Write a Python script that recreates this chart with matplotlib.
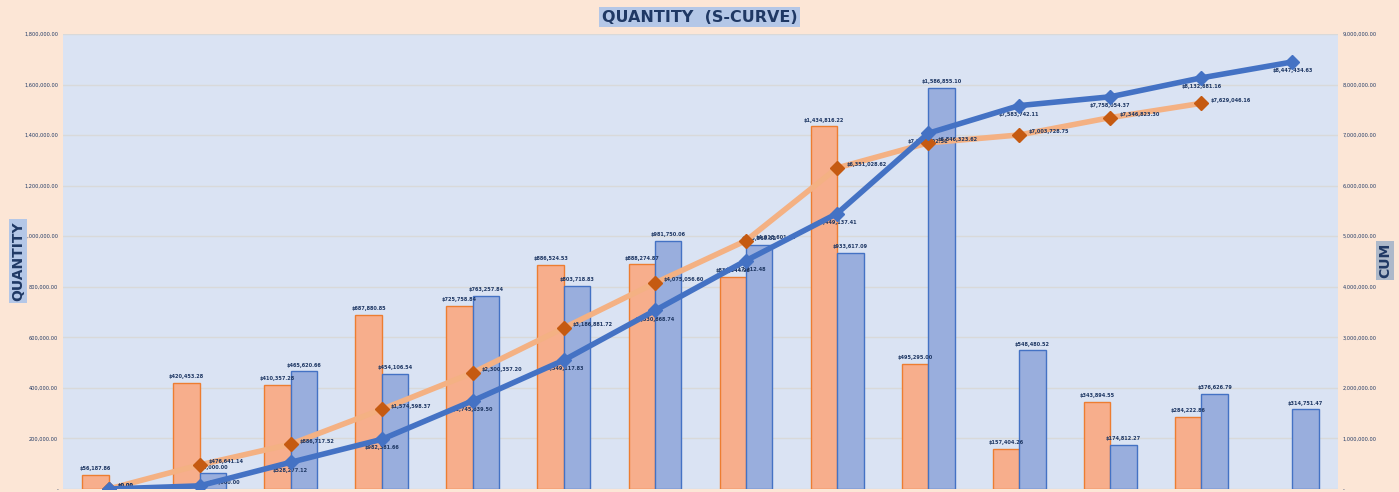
import matplotlib.pyplot as plt
import numpy as np

planned = [56187.86, 420453.28, 410357.28, 687880.85, 725758.84, 886524.53, 888274.87,
           838544.98, 1434816.22, 495295.00, 157404.26, 343894.55, 284222.86, None]
actual = [None, 62000.00, 465620.66, 454106.54, 763257.84, 803718.83, 981750.06,
          965560.32, 933617.09, 1586855.10, 548480.52, 174812.27, 376626.79, 314751.47]
cum_planned = [0, 476641.14, 886717.52, 1574598.37, 2300357.20, 3186881.72, 4075056.60,
               4913601.58, 6351028.62, 6846323.62, 7003728.75, 7346823.30, 7629046.16, None]
cum_actual = [0, 62000.00, 528277.12, 982381.66, 1745639.50, 2549117.83, 3530868.74,
              4517912.48, 5449137.41, 7035992.51, 7583742.11, 7758054.37, 8132681.16, 8447434.63]

fig = plt.figure(figsize=(13.99, 4.92), dpi=100, facecolor="#FCE6D6")
ax = fig.add_axes([63 / 1399, 3 / 492, 1275 / 1399, 455 / 492])
ax.set_facecolor("#DAE3F3")
ax2 = ax.twinx()

x = np.arange(len(planned))
w = 0.29
navy = "#1F3864"
for i in x:
    if planned[i] is not None:
        ax.bar(i - w / 2, planned[i], w, color="#F7AE8C", edgecolor="#ED7D31", lw=1)
        ax.text(i - w / 2, planned[i] + 15000, f"${planned[i]:,.2f}", ha="center", va="bottom",
                fontsize=3.6, color=navy, weight="bold")
    if actual[i] is not None:
        ax.bar(i + w / 2, actual[i], w, color="#99AEDD", edgecolor="#4472C4", lw=1)
        ax.text(i + w / 2, actual[i] + 15000, f"${actual[i]:,.2f}", ha="center", va="bottom",
                fontsize=3.6, color=navy, weight="bold")

xp = [i for i in x if cum_planned[i] is not None]
yp = [cum_planned[i] for i in xp]
ax2.plot(xp, yp, color="#F4B183", lw=4, zorder=3)
ax2.plot(xp, yp, ls="none", marker="D", ms=7, color="#C55A11", zorder=4)
for xi, yi in zip(xp, yp):
    ax2.text(xi + 0.1, yi + 60000, f"${yi:,.2f}", ha="left", va="center", fontsize=3.6, color=navy, weight="bold")
ax2.plot(x, cum_actual, color="#4472C4", lw=4, marker="D", ms=7, zorder=5)
for xi, yi in zip(x, cum_actual):
    if yi < 300000:
        ax2.text(xi + 0.1, yi + 60000, f"${yi:,.2f}", ha="left", va="center", fontsize=3.6,
                 color=navy, weight="bold")
    else:
        ax2.text(xi, yi - 120000, f"${yi:,.2f}", ha="center", va="top", fontsize=3.6,
                 color=navy, weight="bold")

ax.set_xlim(-0.5, len(planned) - 0.5)
ax.set_ylim(0, 1800000)
ax2.set_ylim(0, 9000000)
ax.set_yticks(np.arange(0, 1800001, 200000))
ax2.set_yticks(np.arange(0, 9000001, 1000000))
ax.set_yticklabels([f"{v:,.2f}" if v else "-" for v in ax.get_yticks()], fontsize=3.6, color=navy)
ax2.set_yticklabels([f"{v:,.2f}" if v else "-" for v in ax2.get_yticks()], fontsize=3.6, color=navy)
ax.set_xticks([])
ax.grid(axis="y", color="#D9D9D9", lw=1)
ax.set_axisbelow(True)
for a in (ax, ax2):
    for s in a.spines.values():
        s.set_visible(False)
    a.tick_params(length=0)

box = dict(boxstyle="square,pad=0.15", fc="#B4C7E7", ec="none")
fig.text(0.5, 0.965, "QUANTITY  (S-CURVE)", ha="center", va="center", fontsize=11.5,
         weight="bold", color=navy, bbox=box)
fig.text(18 / 1399, 0.47, "QUANTITY", rotation=90, ha="center", va="center", fontsize=10,
         weight="bold", color=navy, bbox=box)
fig.text(1385 / 1399, 0.47, "CUM", rotation=90, ha="center", va="center", fontsize=10,
         weight="bold", color=navy, bbox=dict(boxstyle="square,pad=0.15", fc="#ADB9CA", ec="none"))

fig.savefig("out.png", dpi=100, facecolor=fig.get_facecolor())
